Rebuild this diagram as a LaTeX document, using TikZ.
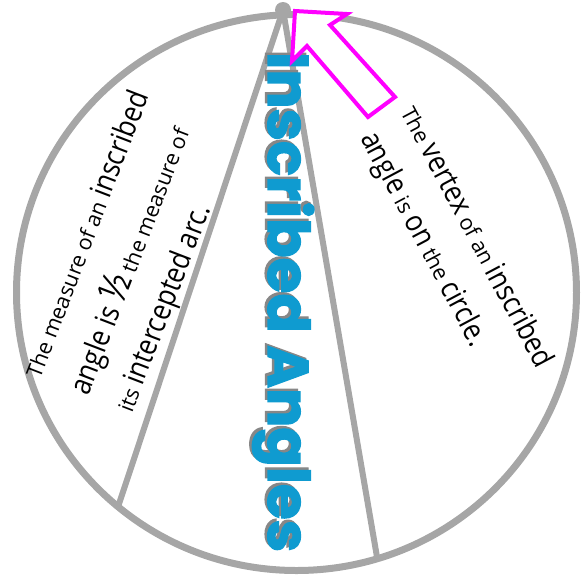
\documentclass[tikz,border=0pt]{standalone}
\usepackage{fontspec}
\usepackage{graphicx}
\setmainfont{Open Sans}
\newfontfamily\titlefont[BoldFeatures={FakeBold=2.2}]{Poppins}
\definecolor{cgray}{RGB}{166,166,166}
\definecolor{tblue}{RGB}{15,155,208}
\definecolor{tshadow}{RGB}{135,135,135}
\definecolor{amag}{RGB}{255,0,255}
\newcommand\smtxt{\fontsize{21.5}{24}\selectfont}
\newcommand\lgtxt{\fontsize{30}{34}\selectfont}
\newcommand\lgw[1]{\scalebox{0.87}[1]{\lgtxt #1}}
\newcommand\titletxt{\resizebox{500pt}{46pt}{\titlefont\bfseries Inscribed Angles}}
\begin{document}
\begin{tikzpicture}[x=1pt,y=-1pt,
  ring/.style={draw=cgray,line width=7pt},
  chord/.style={draw=cgray,line width=6pt},
  pointer/.style={draw=amag,fill=white,line width=4pt,line join=miter},
  txt/.style={inner sep=0pt,anchor=base west,text=black},
  lefttxt/.style={txt,rotate=69},
  righttxt/.style={txt,rotate=-62},
  ttl/.style={inner sep=0pt,anchor=base west,rotate=-90}]
\useasboundingbox (0,0) rectangle (587,582);
\coordinate (O) at (296.5,292.5);
\coordinate (V) at (283,10);
\coordinate (A) at (118,507);
\coordinate (B) at (377,557);
\draw[ring] (O) ellipse [x radius=280, y radius=278];
\draw[chord] (V) -- (A);
\draw[chord] (V) -- (B);
\fill[cgray] (V) circle [radius=8];
\node[ttl,text=tshadow] (tsh) at (265.5,49.5) {\titletxt};
\node[ttl,text=tblue] (title) at (268,52) {\titletxt};
\draw[pointer] (295,11) -- (347,14) -- (330,25) -- (395,97) -- (368,117) -- (307,46) -- (292,61) -- cycle;
\node[lefttxt] (l1) at (40,380) {\smtxt The measure of an \lgw{inscribed}};
\node[lefttxt] (l2) at (88,397) {\lgw{angle is {\fontsize{40}{40}\selectfont ½}}\smtxt{} the measure of};
\node[lefttxt] (l3) at (132,414) {\smtxt its \lgw{intercepted arc.}};
\node[righttxt] (r1) at (400,112) {\smtxt The \lgw{vertex}\smtxt{} of an \lgw{inscribed}};
\node[righttxt] (r2) at (360,138) {\lgw{angle}\smtxt{} is \lgw{on}\smtxt{} the \lgw{circle.}};
\end{tikzpicture}
\end{document}
